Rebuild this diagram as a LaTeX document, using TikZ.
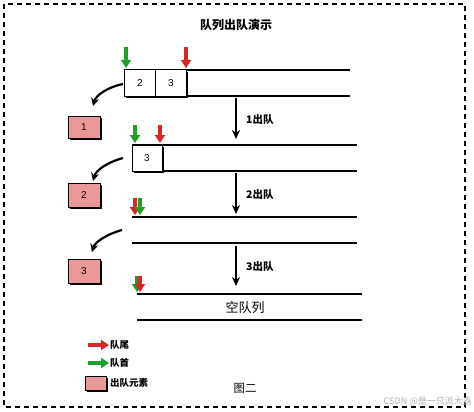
\documentclass[tikz,border=0pt]{standalone}
\usepackage{fontspec}
\setmainfont{Liberation Sans}
\newfontfamily\cjk{Noto Sans CJK SC}
\usetikzlibrary{arrows.meta,shadows}
\definecolor{qpink}{RGB}{234,152,152}
\definecolor{qred}{RGB}{214,40,40}
\definecolor{qgreen}{RGB}{30,160,40}
\begin{document}
\begin{tikzpicture}[x=1pt,y=-1pt,
  qline/.style={line width=1.9pt},
  elem/.style={draw,line width=1pt,fill=white,minimum width=31pt,minimum height=26pt,inner sep=0pt,font=\fontsize{10}{10}\selectfont,
    drop shadow={shadow xshift=1.6pt,shadow yshift=-1.6pt,fill=black,opacity=1}},
  outbox/.style={draw,line width=1pt,fill=qpink,minimum width=32pt,inner sep=0pt,font=\fontsize{10}{10}\selectfont,
    drop shadow={shadow xshift=2pt,shadow yshift=-2pt,fill=black,opacity=1}},
  ptr/.style={line width=3.2pt,-{Triangle[length=8pt,width=10pt]}},
  curv/.style={line width=2.2pt,-{Stealth[length=8pt,width=8pt]}},
  down/.style={line width=1.9pt,-{Stealth[length=9pt,width=8pt]}},
  lab/.style={font=\cjk\bfseries\fontsize{10.5}{11}\selectfont,anchor=west,inner sep=0pt},
]
\useasboundingbox (0,0) rectangle (474,412);
\draw[line width=1.6pt,dash pattern=on 5pt off 4pt] (4,4) rectangle (465,407);

\node[font=\cjk\bfseries\fontsize{12}{12}\selectfont] (title) at (236,25) {队列出队演示};

% row 1
\draw[qline] (124,70) -- (350,70);
\draw[qline] (124,96) -- (350,96);
\node[elem] (b12) at (140,83) {2};
\node[elem] (b13) at (171,83) {3};
\draw[ptr,qgreen] (126,47) -- (126,68);
\draw[ptr,qred] (186,47) -- (186,68);
\node[outbox,minimum height=22pt] (o1) at (84,127) {1};
\coordinate (s1) at (123,84);
\coordinate (e1) at (93,106);
\draw[curv] (s1) .. controls (108,87) and (96,95) .. (e1);
\coordinate (d1a) at (236,98);
\coordinate (d1b) at (236,139);
\draw[down] (d1a) -- (d1b);
\node[lab] (l1) at (246,120) {1出队};

% row 2
\draw[qline] (132,145) -- (357,145);
\draw[qline] (132,171) -- (357,171);
\node[elem,minimum width=30pt] (b23) at (147,158) {3};
\draw[ptr,qgreen] (135,125) -- (135,143);
\draw[ptr,qred] (160,125) -- (160,143);
\node[outbox,minimum height=24pt] (o2) at (84,195) {2};
\coordinate (s2) at (123,158);
\coordinate (e2) at (93,181);
\draw[curv] (s2) .. controls (108,162) and (96,170) .. (e2);
\coordinate (d2a) at (236,173);
\coordinate (d2b) at (236,214);
\draw[down] (d2a) -- (d2b);
\node[lab] (l2) at (246,195) {2出队};

% row 3
\draw[qline] (132,217) -- (357,217);
\draw[ptr,qred] (135,198) -- (135,215);
\draw[ptr,qgreen] (140,198) -- (140,215);
\draw[qline] (132,243) -- (357,243);
\node[outbox,minimum height=24pt] (o3) at (84,271) {3};
\coordinate (s3) at (122,230);
\coordinate (e3) at (92,252);
\draw[curv] (s3) .. controls (107,234) and (95,242) .. (e3);
\coordinate (d3a) at (236,246);
\coordinate (d3b) at (236,286);
\draw[down] (d3a) -- (d3b);
\node[lab] (l3) at (246,267) {3出队};

% row 4
\draw[ptr,qgreen] (137,276) -- (137,292);
\draw[ptr,qred] (140,276) -- (140,292);
\draw[qline] (137,294) -- (362,294);
\node[font=\cjk\fontsize{13}{13}\selectfont] (empty) at (245,308) {空队列};
\draw[qline] (137,320) -- (362,320);

% legend
\coordinate (lr1) at (88,345);
\coordinate (lr2) at (109,345);
\draw[ptr,qred] (lr1) -- (lr2);
\node[lab,font=\cjk\bfseries\fontsize{9.5}{10}\selectfont] (t1) at (110,345) {队尾};
\coordinate (lg1) at (88,363);
\coordinate (lg2) at (109,363);
\draw[ptr,qgreen] (lg1) -- (lg2);
\node[lab,font=\cjk\bfseries\fontsize{9.5}{10}\selectfont] (t2) at (110,363) {队首};
\node[outbox,minimum width=21pt,minimum height=14pt] (lb) at (95.5,383) {};
\node[lab,font=\cjk\bfseries\fontsize{9.5}{10}\selectfont] (t3) at (110,383) {出队元素};
\node[font=\cjk\fontsize{11.5}{12}\selectfont] (fig) at (245,388) {图二};

\node[font=\cjk\fontsize{9}{9}\selectfont,text=black!30,anchor=east,inner sep=0pt] (wm) at (472,401) {CSDN @是一只派大鑫};
\end{tikzpicture}
\end{document}
